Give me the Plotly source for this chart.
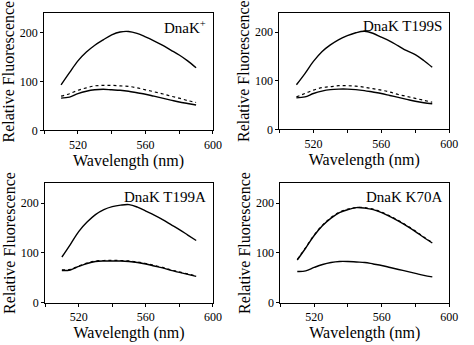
import plotly.graph_objects as go

wavelength = [510, 515, 520, 525, 530, 535, 540, 545, 550, 555, 560, 565, 570, 575, 580, 585, 590]

panel_labels = ["DnaK<sup>+</sup>", "DnaK T199S", "DnaK T199A", "DnaK K70A"]

x_tickvals = [500, 520, 540, 560, 580, 600]
x_ticktext = ["", "520", "", "560", "", "600"]
y_tickvals = [0, 100, 200]

# Panel 1: DnaK+
p1_upper = [93, 118, 142, 160, 174, 185, 195, 201, 202, 198, 191, 183, 174, 164, 154, 142, 128]
p1_dashed = [70, 75, 82, 87, 91, 92, 92, 91, 90, 87, 83, 79, 75, 70, 66, 61, 57]
p1_lower = [66, 68, 75, 80, 83, 84, 83, 82, 80, 77, 74, 70, 66, 62, 58, 55, 52]

# Panel 2: DnaK T199S
p2_upper = [92, 115, 140, 160, 174, 185, 193, 199, 202, 198, 190, 182, 172, 162, 154, 142, 128]
p2_dashed = [67, 74, 81, 86, 88, 90, 90, 89, 87, 84, 81, 77, 72, 68, 64, 60, 56]
p2_lower = [65, 67, 74, 79, 82, 83, 83, 82, 80, 77, 74, 70, 66, 62, 58, 55, 53]

# Panel 3: DnaK T199A
p3_upper = [92, 117, 143, 162, 177, 187, 193, 196, 197, 192, 184, 176, 167, 157, 147, 136, 125]
p3_dashed = [66, 67, 74, 80, 84, 85, 85, 85, 84, 82, 79, 75, 71, 66, 62, 58, 54]
p3_lower = [65, 66, 73, 79, 83, 84, 84, 84, 83, 81, 78, 74, 70, 65, 61, 57, 53]

# Panel 4: DnaK K70A
p4_upper = [86, 110, 135, 155, 170, 181, 187, 191, 190, 187, 181, 173, 164, 154, 143, 131, 120]
p4_dashed = [87, 111, 136, 156, 171, 182, 188, 191, 191, 188, 182, 174, 165, 155, 144, 132, 121]
p4_lower = [63, 64, 71, 77, 81, 83, 83, 82, 81, 78, 75, 71, 67, 63, 59, 55, 52]

panels = [
    (p1_upper, p1_dashed, p1_lower),
    (p2_upper, p2_dashed, p2_lower),
    (p3_upper, p3_dashed, p3_lower),
    (p4_upper, p4_dashed, p4_lower),
]

x_domains = [[0.095, 0.458], [0.601, 0.966], [0.097, 0.458], [0.603, 0.966]]
y_domains = [[0.614, 0.962], [0.617, 0.962], [0.104, 0.458], [0.104, 0.458]]

font_family = "Liberation Serif, Times New Roman, serif"

fig = go.Figure()

for i, (up, da, lo) in enumerate(panels):
    n = "" if i == 0 else str(i + 1)
    xa, ya = "x" + n, "y" + n
    fig.add_trace(go.Scatter(x=wavelength, y=up, mode="lines", line=dict(color="black", width=1.4, shape="spline"), xaxis=xa, yaxis=ya, showlegend=False))
    fig.add_trace(go.Scatter(x=wavelength, y=da, mode="lines", line=dict(color="black", width=1.2, dash="dot", shape="spline"), xaxis=xa, yaxis=ya, showlegend=False))
    fig.add_trace(go.Scatter(x=wavelength, y=lo, mode="lines", line=dict(color="black", width=1.4, shape="spline"), xaxis=xa, yaxis=ya, showlegend=False))
    axis_common = dict(showline=True, linecolor="black", linewidth=1, mirror=True, showgrid=False, zeroline=False,
                       ticks="outside", ticklen=3, tickcolor="black",
                       tickfont=dict(family=font_family, size=12, color="black"))
    fig.update_layout(**{
        ("xaxis" + n): dict(domain=x_domains[i], range=[500, 600], tickvals=x_tickvals, ticktext=x_ticktext, anchor=ya,
                            title=dict(text="Wavelength (nm)", font=dict(family=font_family, size=16, color="black"), standoff=1),
                            **axis_common),
        ("yaxis" + n): dict(domain=y_domains[i], range=[0, 240], tickvals=y_tickvals, anchor=xa,
                            title=dict(text="Relative Fluorescence", font=dict(family=font_family, size=16, color="black"), standoff=1),
                            **axis_common),
    })
    fig.add_annotation(text=panel_labels[i], xref=xa + " domain", yref=ya + " domain", x=0.97, y=0.97,
                       xanchor="right", yanchor="top", showarrow=False,
                       font=dict(family=font_family, size=15, color="black"))

fig.update_layout(width=474, height=345, margin=dict(l=0, r=0, t=0, b=0),
                  font=dict(family=font_family, color="black"),
                  plot_bgcolor="white", paper_bgcolor="white")
fig.write_html("out.html")
